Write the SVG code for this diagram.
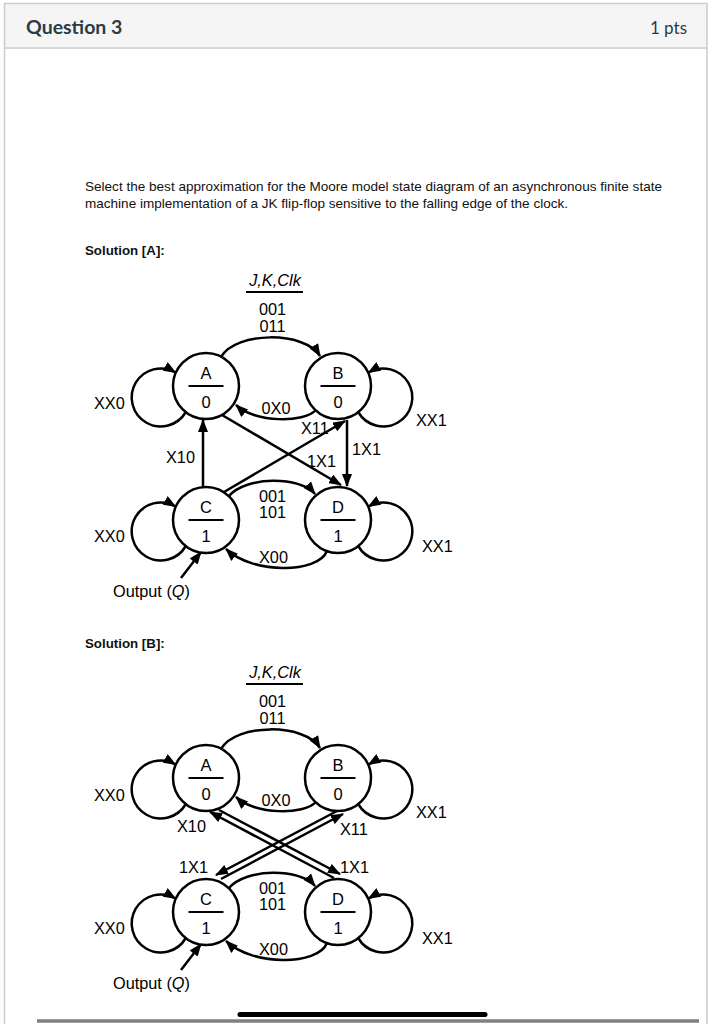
<svg xmlns="http://www.w3.org/2000/svg" width="716" height="1024" viewBox="0 0 716 1024">
<style>
.frame{fill:none;stroke:#c7cdd1;stroke-width:1.5}
.hd{font-family:Lato,"Liberation Sans",sans-serif;fill:#2d3b45}
.q{font-family:"Liberation Sans",Arial,sans-serif;font-size:12.8px;fill:#111}
.sol{font-family:"Liberation Sans",Arial,sans-serif;font-size:13.3px;font-weight:bold;fill:#111}
.nd{fill:#fff;stroke:#000;stroke-width:2.5}
.dv{stroke:#000;stroke-width:2.2}
.nt{font-family:"Liberation Sans",Arial,sans-serif;font-size:16.5px;fill:#000;text-anchor:middle}
.lb{font-family:"Liberation Sans",Arial,sans-serif;font-size:16.3px;fill:#000}
.mid{text-anchor:middle}
.it{font-style:italic}
.cn{fill:none;stroke:#000;stroke-width:2.5;marker-end:url(#ah)}
.pl{fill:none;stroke:#000;stroke-width:2.2}
</style>
<defs>
<marker id="ah" viewBox="0 0 13 10" refX="12" refY="5" markerWidth="13" markerHeight="10" markerUnits="userSpaceOnUse" orient="auto"><path d="M0,0 L13,5 L0,10 z" fill="#000"/></marker>
</defs>
<rect width="716" height="1024" fill="#fff"/>
<g id="page">
<rect x="4.5" y="3.5" width="702.5" height="44.5" fill="#f5f5f5" stroke="#c7cdd1" stroke-width="1.5"/>
<line class="frame" x1="4.5" y1="48" x2="4.5" y2="1024"/>
<line class="frame" x1="707" y1="48" x2="707" y2="1024"/>
<text class="hd" x="26" y="34" font-size="19.5" font-weight="bold">Question 3</text>
<text class="hd" x="687" y="34" font-size="17" text-anchor="end">1 pts</text>
<text class="q" x="85" y="191" textLength="577" lengthAdjust="spacingAndGlyphs">Select the best approximation for the Moore model state diagram of an asynchronous finite state</text>
<text class="q" x="85" y="208" textLength="483" lengthAdjust="spacingAndGlyphs">machine implementation of a JK flip-flop sensitive to the falling edge of the clock.</text>
<text class="sol" x="85" y="255">Solution [A]:</text>
<text class="sol" x="85" y="648">Solution [B]:</text>
<line x1="37" y1="1021" x2="699" y2="1021" stroke="#808080" stroke-width="3.5"/>
<line x1="240" y1="1014.5" x2="485" y2="1014.5" stroke="#000" stroke-width="5" stroke-linecap="round"/>
</g>

<!-- Solution A -->
<g id="connectors-A">
<path class="pl" d="M246,292 H303"/>
<path class="cn" d="M185.8,412 A29,29 0 1 1 175.5,372.5"/>
<path class="cn" d="M358.2,412 A29,29 0 1 0 368.5,372.5"/>
<path class="cn" d="M185.8,546 A29,29 0 1 1 175.5,506.5"/>
<path class="cn" d="M358.2,546 A29,29 0 1 0 368.5,506.5"/>
<path class="cn" d="M221,357 C236,331 305,331 320,356"/>
<path class="cn" d="M316,410 C304,423 255,423 236,405"/>
<path class="cn" d="M229,496 C246,476 300,476 315,494"/>
<path class="cn" d="M327,551 C318,574 252,574 226,549"/>
<path class="cn" d="M203,487 L203,420"/>
<path class="cn" d="M222,415 L341,485"/>
<path class="cn" d="M224,492 L345,421"/>
<path class="cn" d="M347,420 L347,486"/>
<path class="cn" d="M181,578 L201,552"/>
<text class="lb it mid" x="275" y="286">J,K,Clk</text>
<text class="lb mid" x="272.5" y="315">001</text>
<text class="lb mid" x="272.5" y="332">011</text>
<text class="lb" x="94" y="409">XX0</text>
<text class="lb" x="416" y="426">XX1</text>
<text class="lb mid" x="276" y="414">0X0</text>
<text class="lb" x="301" y="434">X11</text>
<text class="lb" x="352" y="455">1X1</text>
<text class="lb" x="166" y="463">X10</text>
<text class="lb" x="307" y="467">1X1</text>
<text class="lb mid" x="272.5" y="502">001</text>
<text class="lb mid" x="272.5" y="518">101</text>
<text class="lb" x="94" y="542">XX0</text>
<text class="lb" x="422" y="552">XX1</text>
<text class="lb mid" x="273.5" y="563">X00</text>
<text class="lb" x="113" y="597">Output (<tspan class="it">Q</tspan>)</text>
</g>
<g id="node-A1"><circle class="nd" cx="206" cy="386" r="33"/><line class="dv" x1="188.5" y1="386" x2="223.5" y2="386"/><text class="nt" x="206" y="379">A</text><text class="nt" x="206" y="408">0</text></g>
<g id="node-B1"><circle class="nd" cx="338" cy="386" r="33"/><line class="dv" x1="320.5" y1="386" x2="355.5" y2="386"/><text class="nt" x="338" y="379">B</text><text class="nt" x="338" y="408">0</text></g>
<g id="node-C1"><circle class="nd" cx="206" cy="520" r="33"/><line class="dv" x1="188.5" y1="520" x2="223.5" y2="520"/><text class="nt" x="206" y="513">C</text><text class="nt" x="206" y="542">1</text></g>
<g id="node-D1"><circle class="nd" cx="338" cy="520" r="33"/><line class="dv" x1="320.5" y1="520" x2="355.5" y2="520"/><text class="nt" x="338" y="513">D</text><text class="nt" x="338" y="542">1</text></g>

<!-- Solution B -->
<g id="connectors-B">
<path class="pl" d="M246,684 H303"/>
<path class="cn" d="M185.8,804 A29,29 0 1 1 175.5,764.5"/>
<path class="cn" d="M358.2,804 A29,29 0 1 0 368.5,764.5"/>
<path class="cn" d="M185.8,938 A29,29 0 1 1 175.5,898.5"/>
<path class="cn" d="M358.2,938 A29,29 0 1 0 368.5,898.5"/>
<path class="cn" d="M221,749 C236,723 305,723 320,748"/>
<path class="cn" d="M316,802 C304,815 255,815 236,797"/>
<path class="cn" d="M229,888 C246,868 300,868 315,886"/>
<path class="cn" d="M327,943 C318,966 252,966 226,941"/>
<path class="cn" d="M219,810 L340,874"/>
<path class="cn" d="M334,878 L210,812"/>
<path class="cn" d="M337,811 L216,875"/>
<path class="cn" d="M221,879 L343,814"/>
<path class="cn" d="M181,970 L201,944"/>
<text class="lb it mid" x="275" y="678">J,K,Clk</text>
<text class="lb mid" x="272.5" y="707">001</text>
<text class="lb mid" x="272.5" y="724">011</text>
<text class="lb" x="94" y="801">XX0</text>
<text class="lb" x="416" y="818">XX1</text>
<text class="lb mid" x="276" y="806">0X0</text>
<text class="lb" x="177" y="832">X10</text>
<text class="lb" x="340" y="835">X11</text>
<text class="lb" x="179" y="873">1X1</text>
<text class="lb" x="340" y="873">1X1</text>
<text class="lb mid" x="272.5" y="894">001</text>
<text class="lb mid" x="272.5" y="910">101</text>
<text class="lb" x="94" y="934">XX0</text>
<text class="lb" x="422" y="944">XX1</text>
<text class="lb mid" x="273.5" y="955">X00</text>
<text class="lb" x="113" y="989">Output (<tspan class="it">Q</tspan>)</text>
</g>
<g id="node-A2"><circle class="nd" cx="206" cy="778" r="33"/><line class="dv" x1="188.5" y1="778" x2="223.5" y2="778"/><text class="nt" x="206" y="771">A</text><text class="nt" x="206" y="800">0</text></g>
<g id="node-B2"><circle class="nd" cx="338" cy="778" r="33"/><line class="dv" x1="320.5" y1="778" x2="355.5" y2="778"/><text class="nt" x="338" y="771">B</text><text class="nt" x="338" y="800">0</text></g>
<g id="node-C2"><circle class="nd" cx="206" cy="912" r="33"/><line class="dv" x1="188.5" y1="912" x2="223.5" y2="912"/><text class="nt" x="206" y="905">C</text><text class="nt" x="206" y="934">1</text></g>
<g id="node-D2"><circle class="nd" cx="338" cy="912" r="33"/><line class="dv" x1="320.5" y1="912" x2="355.5" y2="912"/><text class="nt" x="338" y="905">D</text><text class="nt" x="338" y="934">1</text></g>
</svg>
